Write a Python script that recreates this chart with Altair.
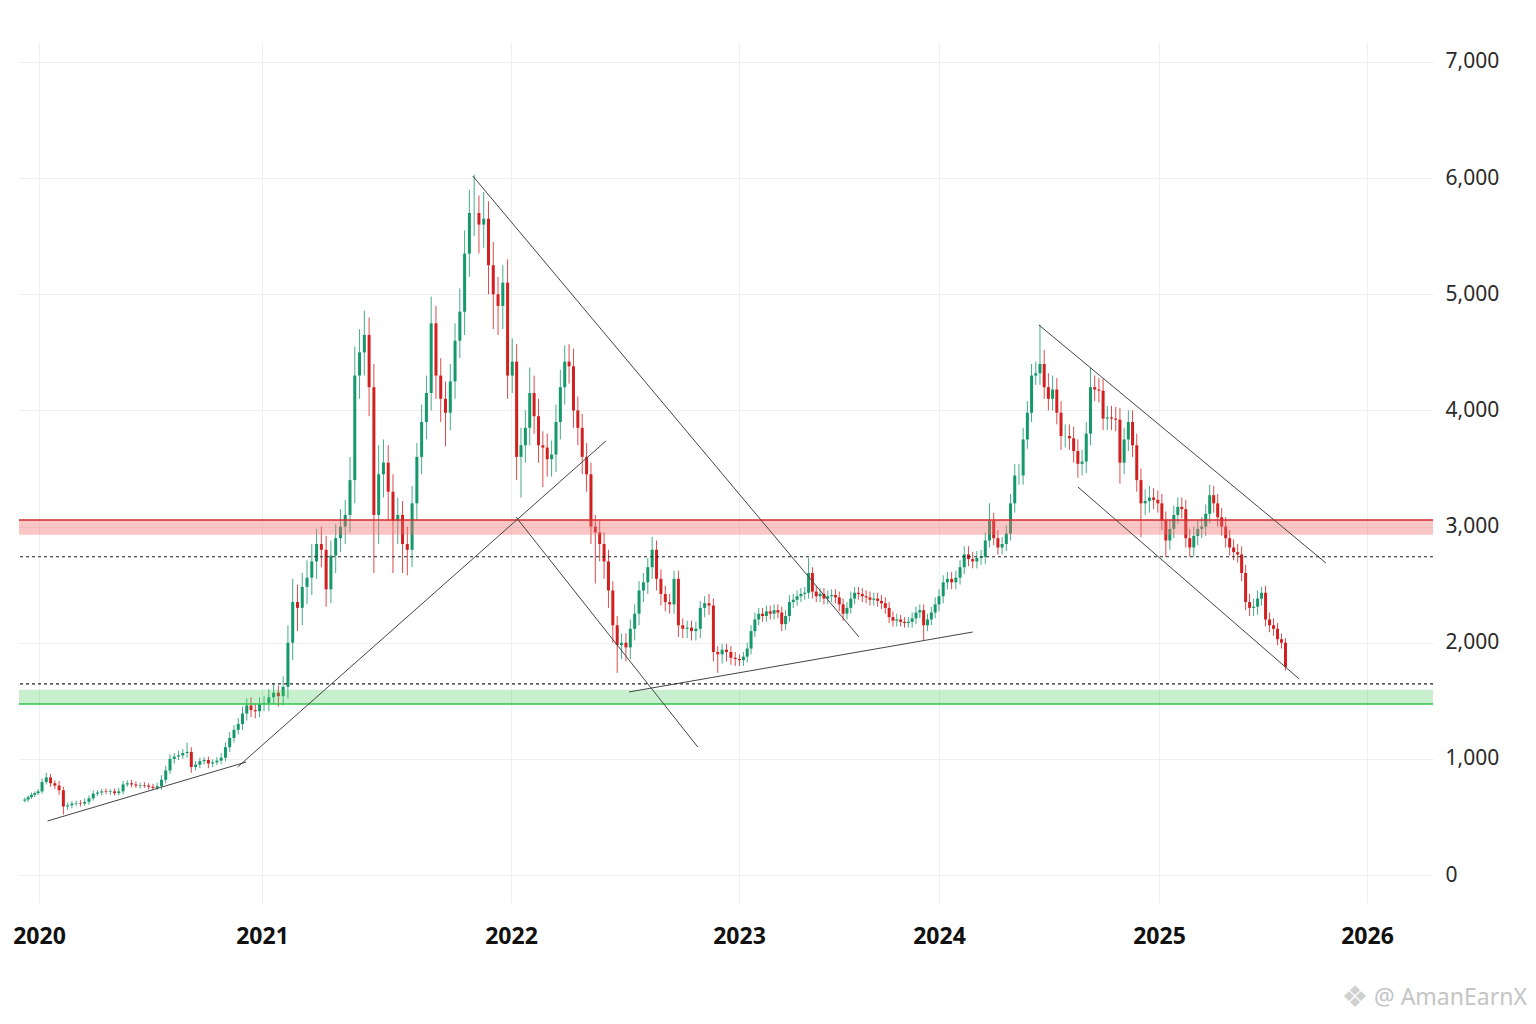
import altair as alt
import pandas as pd

# ---------------- data (weekly candles) ----------------
first_week = "2019-12-02"
first_open = 640

close_2019 = [650, 670, 690, 705, 720]
uw_2019 = [15, 15, 20, 15, 20]
lw_2019 = [15, 20, 15, 20, 15]

close_2020 = [800, 840, 790, 770, 730, 590, 600, 615, 620, 615,
              630, 660, 700, 710, 720, 715, 720, 705, 720, 780,
              790, 780, 770, 775, 770, 760, 750, 765, 820, 900,
              1000, 1020, 1030, 1050, 1060, 930, 950, 980, 990, 960,
              970, 985, 1010, 1100, 1180, 1250, 1300, 1390, 1460, 1420,
              1410, 1470]
uw_2020 = [30, 40, 30, 25, 40, 30, 25, 20, 20, 25,
           30, 25, 30, 20, 20, 25, 20, 25, 30, 30,
           25, 30, 25, 20, 25, 20, 25, 30, 40, 40,
           40, 30, 40, 35, 80, 40, 30, 30, 25, 30,
           25, 30, 40, 40, 50, 40, 50, 60, 60, 70,
           60, 60]
lw_2020 = [20, 20, 30, 30, 40, 70, 30, 25, 20, 25,
           20, 25, 20, 20, 25, 20, 25, 20, 20, 25,
           20, 25, 20, 25, 20, 25, 20, 20, 30, 30,
           30, 40, 30, 30, 40, 50, 30, 30, 30, 40,
           30, 25, 30, 30, 40, 40, 40, 50, 60, 60,
           60, 50]

close_2021 = [1480, 1530, 1570, 1540, 1620, 2000, 2350, 2300, 2480, 2560,
              2700, 2850, 2800, 2460, 2750, 2900, 3000, 3100, 3400, 4300,
              4500, 4650, 4200, 3100, 3450, 3550, 3300, 3050, 3100, 2850,
              2800, 3200, 3600, 3900, 4150, 4750, 4300, 4100, 3980, 4250,
              4600, 4850, 5350, 5700, 5700, 5600, 5650, 5250, 5000, 4900,
              5100, 4300]
uw_2021 = [60, 70, 80, 60, 90, 150, 200, 150, 120, 150,
           150, 130, 150, 120, 130, 120, 150, 130, 200, 250,
           200, 210, 150, 200, 250, 200, 150, 150, 150, 120,
           150, 150, 120, 150, 150, 230, 150, 150, 150, 150,
           150, 200, 200, 200, 330, 150, 230, 150, 200, 150,
           150, 200]
lw_2021 = [60, 70, 60, 90, 80, 100, 150, 200, 150, 150,
           150, 150, 150, 150, 120, 150, 120, 150, 150, 200,
           200, 200, 250, 500, 250, 200, 250, 450, 200, 250,
           220, 150, 150, 150, 150, 150, 200, 200, 290, 150,
           150, 150, 200, 200, 200, 250, 200, 250, 300, 250,
           200, 200]

close_2022 = [4420, 3600, 3700, 3850, 4150, 3950, 3700, 3680, 3580, 3620,
              3900, 4200, 4420, 4380, 4000, 3850, 3600, 3450, 3000, 2950,
              2850, 2700, 2450, 2150, 1980, 2000, 1960, 2120, 2250, 2450,
              2520, 2650, 2800, 2550, 2420, 2350, 2330, 2550, 2150, 2120,
              2130, 2100, 2120, 2300, 2340, 2320, 1920, 1900, 1940, 1920,
              1870, 1860]
uw_2022 = [200, 150, 150, 150, 220, 150, 150, 120, 120, 120,
           150, 150, 140, 150, 150, 120, 120, 120, 100, 100,
           100, 100, 100, 80, 80, 80, 80, 80, 80, 80,
           80, 80, 110, 80, 80, 70, 70, 70, 70, 60,
           60, 60, 60, 60, 60, 80, 60, 50, 50, 50,
           50, 50]
lw_2022 = [150, 200, 350, 150, 150, 150, 150, 340, 150, 150,
           150, 150, 150, 150, 150, 150, 150, 150, 150, 440,
           150, 150, 150, 150, 240, 120, 120, 100, 100, 100,
           100, 100, 100, 100, 100, 80, 80, 80, 100, 80,
           80, 80, 80, 80, 80, 80, 80, 160, 80, 80,
           60, 60]

close_2023 = [1850, 1880, 1950, 2100, 2200, 2250, 2230, 2270, 2250, 2280,
              2260, 2160, 2230, 2350, 2370, 2400, 2420, 2430, 2600, 2440,
              2400, 2420, 2380, 2400, 2410, 2390, 2330, 2250, 2300, 2380,
              2430, 2420, 2400, 2390, 2370, 2380, 2360, 2340, 2300, 2220,
              2190, 2200, 2180, 2170, 2180, 2210, 2260, 2280, 2150, 2200,
              2260, 2330]
uw_2023 = [40, 40, 50, 50, 60, 50, 50, 50, 50, 50,
           50, 50, 50, 60, 50, 50, 50, 50, 130, 50,
           50, 50, 50, 50, 50, 50, 50, 50, 50, 60,
           50, 50, 50, 50, 50, 50, 50, 50, 50, 50,
           50, 50, 40, 40, 40, 50, 50, 50, 50, 50,
           50, 60]
lw_2023 = [50, 50, 50, 50, 50, 50, 50, 50, 50, 50,
           50, 60, 50, 50, 50, 50, 50, 50, 50, 60,
           50, 50, 50, 50, 50, 50, 60, 60, 50, 50,
           50, 50, 50, 50, 50, 50, 50, 50, 50, 50,
           50, 50, 40, 40, 40, 50, 50, 50, 130, 50,
           50, 50]

close_2024 = [2400, 2520, 2550, 2520, 2560, 2650, 2760, 2720, 2700, 2730,
              2740, 2880, 3050, 2900, 2820, 2850, 2940, 3200, 3440, 3440,
              3750, 3980, 4300, 4320, 4400, 4200, 4100, 4180, 3980, 3780,
              3780, 3760, 3650, 3540, 3560, 3800, 4200, 4180, 4170, 3930,
              3940, 3930, 3920, 3550, 3750, 3900, 3700, 3400, 3200, 3220,
              3250, 3230, 3200]
uw_2024 = [60, 60, 60, 60, 60, 60, 70, 70, 60, 60,
           60, 70, 150, 70, 70, 60, 70, 80, 100, 100,
           100, 100, 100, 100, 340, 120, 120, 120, 100, 100,
           100, 100, 100, 100, 100, 100, 170, 100, 100, 100,
           100, 100, 100, 100, 100, 100, 100, 100, 100, 100,
           100, 80, 80]
lw_2024 = [60, 60, 60, 60, 60, 60, 60, 60, 60, 60,
           60, 60, 60, 60, 60, 60, 60, 60, 80, 80,
           80, 80, 80, 80, 100, 100, 100, 100, 100, 120,
           100, 100, 100, 120, 100, 100, 100, 100, 100, 100,
           100, 100, 100, 180, 100, 100, 100, 100, 290, 100,
           100, 80, 80]

close_2025 = [3050, 2880, 2980, 3100, 3170, 3150, 2900, 2820, 2920, 2980,
              3000, 3110, 3270, 3200, 3080, 3000, 2900, 2820, 2780, 2760,
              2600, 2350, 2300, 2310, 2380, 2430, 2200, 2150, 2120, 2030,
              2000, 1790]
uw_2025 = [80, 80, 80, 80, 80, 80, 80, 80, 80, 80,
           80, 80, 90, 80, 80, 80, 80, 70, 70, 70,
           70, 70, 70, 70, 70, 50, 60, 60, 60, 50,
           50, 40]
lw_2025 = [80, 140, 80, 80, 80, 80, 80, 80, 80, 80,
           80, 80, 80, 80, 80, 80, 80, 70, 70, 70,
           70, 70, 70, 70, 70, 60, 60, 60, 60, 50,
           50, 30]

# horizontal levels
red_zone = (2930, 3057)
green_zone = (1472, 1595)
dotted_levels = [2740, 1645]

# trend lines (start date, start value, end date, end value)
trend_x1 = ["2020-01-15", "2020-11-22", "2021-11-06", "2022-01-09", "2022-07-09", "2024-06-15", "2024-08-19"]
trend_y1 = [465, 930, 6018, 3082, 1576, 4736, 3341]
trend_x2 = ["2020-12-06", "2022-06-02", "2023-08-08", "2022-10-27", "2024-02-26", "2025-10-21", "2025-09-04"]
trend_y2 = [973, 3737, 2049, 1102, 2092, 2686, 1688]

y_ticks = [0, 1000, 2000, 3000, 4000, 5000, 6000, 7000]
year_ticks = [2020, 2021, 2022, 2023, 2024, 2025, 2026]

# ---------------- build tables ----------------
def year_frac(s):
    d = pd.to_datetime(pd.Series(s))
    days = d.dt.is_leap_year.map({True: 366.0, False: 365.0})
    return (d.dt.year + (d.dt.dayofyear - 1) / days).tolist()

closes = close_2019 + close_2020 + close_2021 + close_2022 + close_2023 + close_2024 + close_2025
uws = uw_2019 + uw_2020 + uw_2021 + uw_2022 + uw_2023 + uw_2024 + uw_2025
lws = lw_2019 + lw_2020 + lw_2021 + lw_2022 + lw_2023 + lw_2024 + lw_2025
assert len(closes) == len(uws) == len(lws), (len(closes), len(uws), len(lws))

opens = [first_open] + closes[:-1]
dates = pd.date_range(first_week, periods=len(closes), freq="W-MON")
df = pd.DataFrame({
    "t": year_frac(dates),
    "open": opens,
    "close": closes,
})
df["high"] = [max(o, c) + u for o, c, u in zip(opens, closes, uws)]
df["low"] = [min(o, c) - l for o, c, l in zip(opens, closes, lws)]
df["dir"] = ["up" if c >= o else "down" for o, c in zip(opens, closes)]

trend = pd.DataFrame({"x1": year_frac(trend_x1), "y1": trend_y1,
                      "x2": year_frac(trend_x2), "y2": trend_y2})
zones_red = pd.DataFrame({"lo": [red_zone[0]], "hi": [red_zone[1]]})
zones_green = pd.DataFrame({"lo": [green_zone[0]], "hi": [green_zone[1]]})
dots = pd.DataFrame({"v": dotted_levels})
red_line = pd.DataFrame({"v": [red_zone[1]]})
green_line = pd.DataFrame({"v": [green_zone[0]]})

GREEN = "#15986a"
RED = "#d21f1f"
FONT = "Noto Sans"
W, H = 1414, 861

# piecewise x scale (year gridlines are unevenly spaced in the reference)
xscale = alt.Scale(
    type="linear",
    domain=[2019.907, 2020, 2021, 2022, 2023, 2024, 2025, 2026, 2026.315],
    range=[0, 20, 243, 492, 720, 920, 1140, 1348, 1414],
    nice=False, zero=False,
)
yscale = alt.Scale(domain=[-241, 7172], nice=False, zero=False)

xaxis = alt.Axis(values=year_ticks, format="d", grid=True,
                 gridColor="#efefef", gridWidth=1, domain=False, ticks=False,
                 labelPadding=22, labelFontSize=23, labelFontWeight="bold",
                 labelColor="#111111", labelFont=FONT, title=None,
                 labelFlush=False, labelOverlap=False)
yaxis = alt.Axis(orient="right", values=y_ticks, format=",d", grid=True,
                 gridColor="#efefef", gridWidth=1, domain=False, ticks=False,
                 labelPadding=12, labelFontSize=21, labelColor="#2a2a2a",
                 labelFont=FONT, title=None)

def X(f):
    return alt.X(f, type="quantitative", scale=xscale, axis=xaxis)

def Y(f):
    return alt.Y(f, type="quantitative", scale=yscale, axis=yaxis)

color = alt.Color("dir:N", scale=alt.Scale(domain=["up", "down"], range=[GREEN, RED]), legend=None)

wicks = alt.Chart(df).mark_rule(strokeWidth=1, opacity=0.8).encode(
    x=X("t"), y=Y("low"), y2="high", color=color)
bodies = alt.Chart(df).mark_bar(size=3).encode(
    x=X("t"), y=Y("open"), y2="close", color=color)

red_band = alt.Chart(zones_red).mark_rect(color="#f26d6d", opacity=0.4).encode(
    y=Y("lo"), y2="hi")
green_band = alt.Chart(zones_green).mark_rect(color="#4ccc5c", opacity=0.3).encode(
    y=Y("lo"), y2="hi")
red_rule = alt.Chart(red_line).mark_rule(color="#d42a2a", strokeWidth=1.5).encode(y=Y("v"))
green_rule = alt.Chart(green_line).mark_rule(color="#2ec44a", strokeWidth=1.5).encode(y=Y("v"))
dotted = alt.Chart(dots).mark_rule(color="#222222", strokeWidth=1.2, strokeDash=[3, 3]).encode(y=Y("v"))

trends = alt.Chart(trend).mark_rule(color="#444444", strokeWidth=1).encode(
    x=X("x1"), x2="x2", y=Y("y1"), y2="y2")

mark_df = pd.DataFrame({"t": ["@ AmanEarnX"], "icon": ["\u2756"]})
wm_text = alt.Chart(mark_df).mark_text(align="left", baseline="middle", fontSize=23,
                                       font=FONT, color="#c4c4c4").encode(
    x=alt.value(1355), y=alt.value(956), text="t:N")
wm_icon = alt.Chart(mark_df).mark_text(align="center", baseline="middle", fontSize=30,
                                       font="DejaVu Sans", color="#d0d0d0").encode(
    x=alt.value(1336), y=alt.value(956), text="icon:N")

chart = alt.layer(
    wicks, bodies, red_band, green_band, red_rule, green_rule, dotted, trends, wm_text, wm_icon
).properties(
    width=W, height=H,
    padding={"left": 4, "top": 34, "right": 0, "bottom": 5},
    background="white",
).configure_view(stroke=None)

chart.save("out.html", embed_options={"renderer": "svg", "actions": False})
